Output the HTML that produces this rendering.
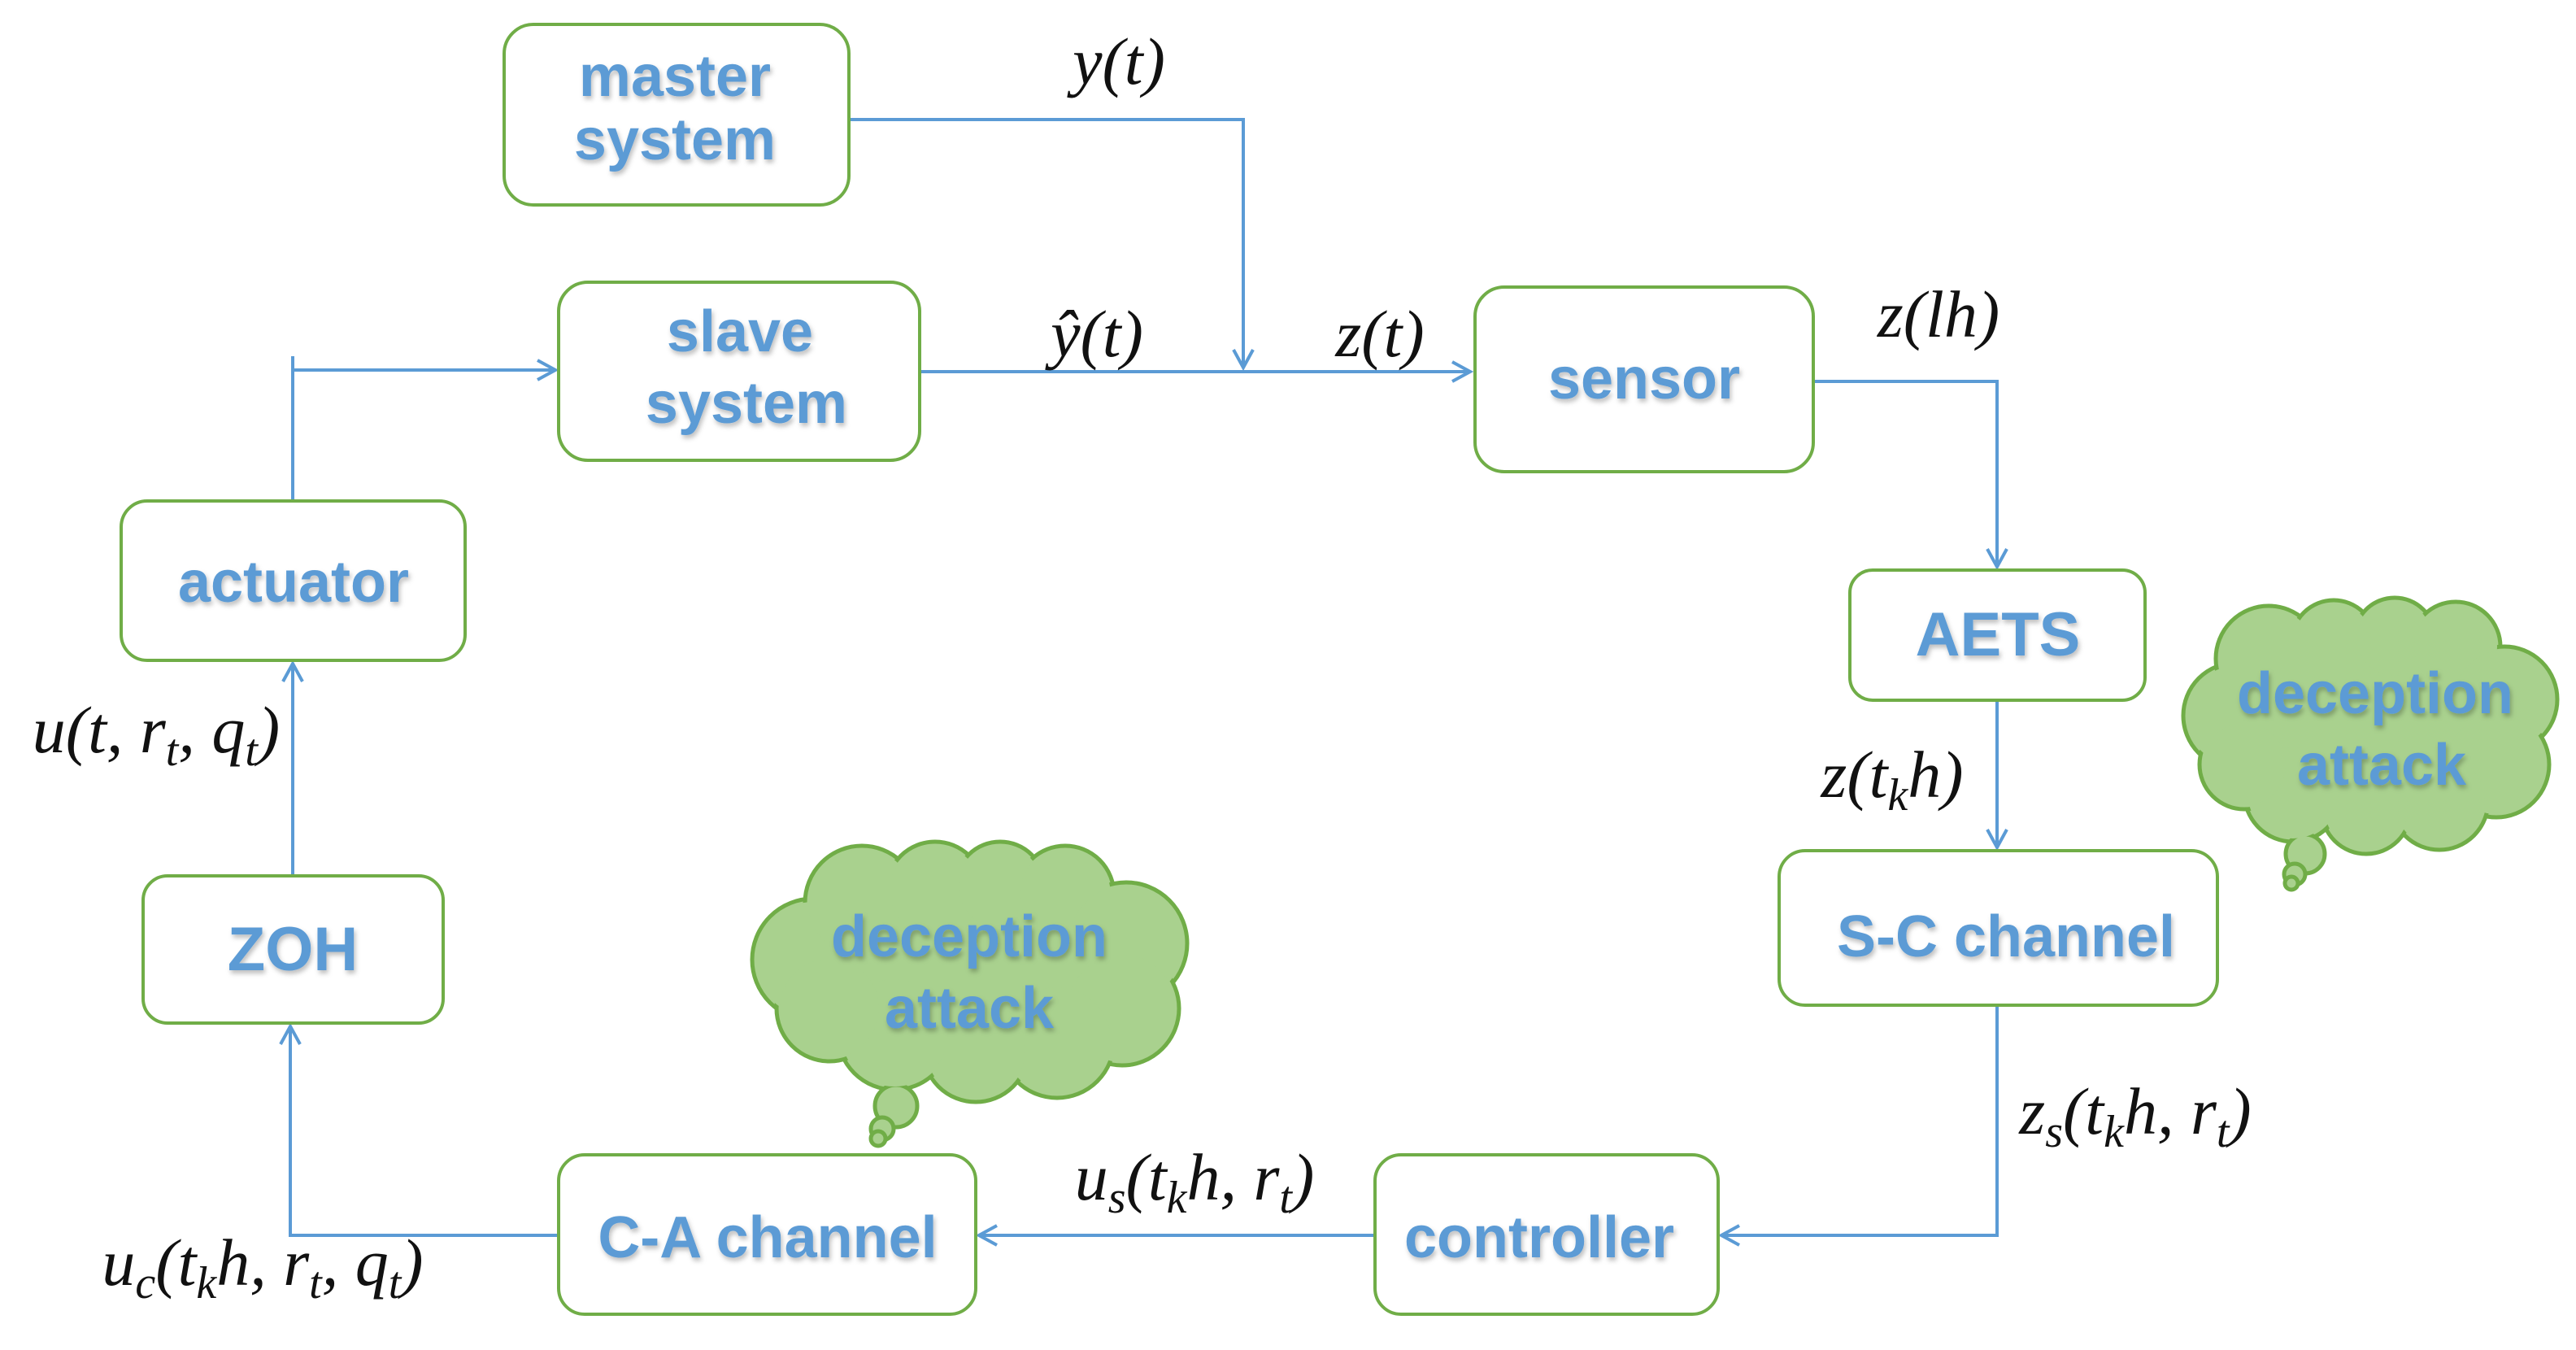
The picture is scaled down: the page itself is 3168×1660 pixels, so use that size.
<!DOCTYPE html>
<html><head><meta charset="utf-8"><style>
html,body{margin:0;padding:0;background:#fff;}
svg{display:block;}
.box{fill:#fff;stroke:#70ad47;stroke-width:4;}
.lbl{font-family:"Liberation Sans",sans-serif;font-weight:bold;font-size:72px;fill:#5b9bd5;text-anchor:middle;}
.m{font-family:"Liberation Serif",serif;font-style:italic;font-size:82px;fill:#111;text-anchor:middle;}
.ln{stroke:#5b9bd5;stroke-width:4;fill:none;}
.cs{fill:#a9d18e;stroke:#70ad47;stroke-width:5;}
.cf{fill:#a9d18e;}
</style></head><body>
<svg width="3168" height="1660" viewBox="0 0 3168 1660" xmlns="http://www.w3.org/2000/svg">
<defs>
<marker id="a" markerWidth="30" markerHeight="30" refX="26" refY="15" orient="auto" markerUnits="userSpaceOnUse">
<path d="M4,3 L26,15 L4,27" fill="none" stroke="#5b9bd5" stroke-width="4"/>
</marker>
<filter id="sh" x="-10%" y="-10%" width="120%" height="130%"><feDropShadow dx="2" dy="4" stdDeviation="3" flood-color="#000" flood-opacity="0.25"/></filter>
</defs>

<polyline class="ln" points="1044,147 1529,147 1529,452" marker-end="url(#a)"/>
<line class="ln" x1="1131" y1="457" x2="1808" y2="457" marker-end="url(#a)"/>
<polyline class="ln" points="360,616 360,455 683,455" marker-end="url(#a)"/>
<line class="ln" x1="360" y1="438" x2="360" y2="455"/>
<polyline class="ln" points="2230,469 2456,469 2456,697" marker-end="url(#a)"/>
<line class="ln" x1="2456" y1="861" x2="2456" y2="1042" marker-end="url(#a)"/>
<polyline class="ln" points="2456,1236 2456,1519 2117,1519" marker-end="url(#a)"/>
<line class="ln" x1="1691" y1="1519" x2="1204" y2="1519" marker-end="url(#a)"/>
<polyline class="ln" points="687,1519 357,1519 357,1262" marker-end="url(#a)"/>
<line class="ln" x1="360" y1="1077" x2="360" y2="816" marker-end="url(#a)"/>

<rect class="box" x="620" y="30" width="424" height="222" rx="36"/>
<rect class="box" x="687" y="347" width="444" height="219" rx="36"/>
<rect class="box" x="1814" y="353" width="416" height="227" rx="36"/>
<rect class="box" x="149" y="616" width="423" height="196" rx="32"/>
<rect class="box" x="2275" y="701" width="363" height="160" rx="28"/>
<rect class="box" x="176" y="1077" width="369" height="181" rx="30"/>
<rect class="box" x="2188" y="1046" width="539" height="190" rx="32"/>
<rect class="box" x="1691" y="1420" width="422" height="196" rx="32"/>
<rect class="box" x="687" y="1420" width="513" height="196" rx="32"/>

<g filter="url(#sh)">
<text class="lbl" x="830" y="118">master</text>
<text class="lbl" x="830" y="196">system</text>
<text class="lbl" x="910" y="432">slave</text>
<text class="lbl" x="918" y="520">system</text>
<text class="lbl" x="2022" y="490">sensor</text>
<text class="lbl" x="361" y="740">actuator</text>
<text class="lbl" x="2457" y="806" style="font-size:76px">AETS</text>
<text class="lbl" x="360" y="1193" style="font-size:76px">ZOH</text>
<text class="lbl" x="2467" y="1176">S-C channel</text>
<text class="lbl" x="1893" y="1546">controller</text>
<text class="lbl" x="944" y="1546">C-A channel</text>
</g>

<g>
<circle class="cs" cx="1000" cy="1180" r="75"/>
<circle class="cs" cx="1060" cy="1110" r="70"/>
<circle class="cs" cx="1150" cy="1095" r="60"/>
<circle class="cs" cx="1230" cy="1090" r="55"/>
<circle class="cs" cx="1310" cy="1100" r="60"/>
<circle class="cs" cx="1385" cy="1160" r="75"/>
<circle class="cs" cx="1380" cy="1240" r="70"/>
<circle class="cs" cx="1300" cy="1280" r="70"/>
<circle class="cs" cx="1200" cy="1290" r="65"/>
<circle class="cs" cx="1100" cy="1270" r="70"/>
<circle class="cs" cx="1020" cy="1240" r="65"/>
<circle class="cs" cx="1102" cy="1360" r="26"/>
<circle class="cs" cx="1085" cy="1388" r="14"/>
<circle class="cs" cx="1080" cy="1400" r="9"/>
<ellipse class="cf" cx="1190" cy="1190" rx="230" ry="120"/>
<circle class="cf" cx="1000" cy="1180" r="71"/><circle class="cf" cx="1060" cy="1110" r="66"/><circle class="cf" cx="1150" cy="1095" r="56"/><circle class="cf" cx="1230" cy="1090" r="51"/><circle class="cf" cx="1310" cy="1100" r="56"/><circle class="cf" cx="1385" cy="1160" r="71"/><circle class="cf" cx="1380" cy="1240" r="66"/><circle class="cf" cx="1300" cy="1280" r="66"/><circle class="cf" cx="1200" cy="1290" r="61"/><circle class="cf" cx="1100" cy="1270" r="66"/><circle class="cf" cx="1020" cy="1240" r="61"/>
</g>
<g filter="url(#sh)">
<text class="lbl" x="1192" y="1176">deception</text>
<text class="lbl" x="1192" y="1264">attack</text>
</g>

<g>
<circle class="cs" cx="2750" cy="880" r="65"/>
<circle class="cs" cx="2790" cy="810" r="65"/>
<circle class="cs" cx="2870" cy="790" r="52"/>
<circle class="cs" cx="2945" cy="785" r="50"/>
<circle class="cs" cx="3020" cy="795" r="55"/>
<circle class="cs" cx="3080" cy="860" r="65"/>
<circle class="cs" cx="3070" cy="940" r="65"/>
<circle class="cs" cx="3000" cy="985" r="60"/>
<circle class="cs" cx="2910" cy="995" r="55"/>
<circle class="cs" cx="2820" cy="975" r="60"/>
<circle class="cs" cx="2760" cy="940" r="55"/>
<circle class="cs" cx="2835" cy="1050" r="24"/>
<circle class="cs" cx="2822" cy="1075" r="13"/>
<circle class="cs" cx="2818" cy="1086" r="8"/>
<ellipse class="cf" cx="2915" cy="890" rx="190" ry="115"/>
<circle class="cf" cx="2750" cy="880" r="61"/><circle class="cf" cx="2790" cy="810" r="61"/><circle class="cf" cx="2870" cy="790" r="48"/><circle class="cf" cx="2945" cy="785" r="46"/><circle class="cf" cx="3020" cy="795" r="51"/><circle class="cf" cx="3080" cy="860" r="61"/><circle class="cf" cx="3070" cy="940" r="61"/><circle class="cf" cx="3000" cy="985" r="56"/><circle class="cf" cx="2910" cy="995" r="51"/><circle class="cf" cx="2820" cy="975" r="56"/><circle class="cf" cx="2760" cy="940" r="51"/>
</g>
<g filter="url(#sh)">
<text class="lbl" x="2921" y="877">deception</text>
<text class="lbl" x="2929" y="965">attack</text>
</g>

<text class="m" x="1376" y="103">y(t)</text>
<text class="m" x="1349" y="438">ŷ(t)</text>
<text class="m" x="1697" y="438">z(t)</text>
<text class="m" x="2384" y="414">z(lh)</text>
<text class="m" x="192" y="925">u(t, r<tspan font-size="56" dy="16">t</tspan><tspan dy="-16">, q</tspan><tspan font-size="56" dy="16">t</tspan><tspan dy="-16">)</tspan></text>
<text class="m" x="2327" y="980">z(t<tspan font-size="56" dy="16">k</tspan><tspan dy="-16">h)</tspan></text>
<text class="m" x="2626" y="1394">z<tspan font-size="56" dy="16">s</tspan><tspan dy="-16">(t</tspan><tspan font-size="56" dy="16">k</tspan><tspan dy="-16">h, r</tspan><tspan font-size="56" dy="16">t</tspan><tspan dy="-16">)</tspan></text>
<text class="m" x="1469" y="1475">u<tspan font-size="56" dy="16">s</tspan><tspan dy="-16">(t</tspan><tspan font-size="56" dy="16">k</tspan><tspan dy="-16">h, r</tspan><tspan font-size="56" dy="16">t</tspan><tspan dy="-16">)</tspan></text>
<text class="m" x="323" y="1580">u<tspan font-size="56" dy="16">c</tspan><tspan dy="-16">(t</tspan><tspan font-size="56" dy="16">k</tspan><tspan dy="-16">h, r</tspan><tspan font-size="56" dy="16">t</tspan><tspan dy="-16">, q</tspan><tspan font-size="56" dy="16">t</tspan><tspan dy="-16">)</tspan></text>
</svg>
</body></html>
